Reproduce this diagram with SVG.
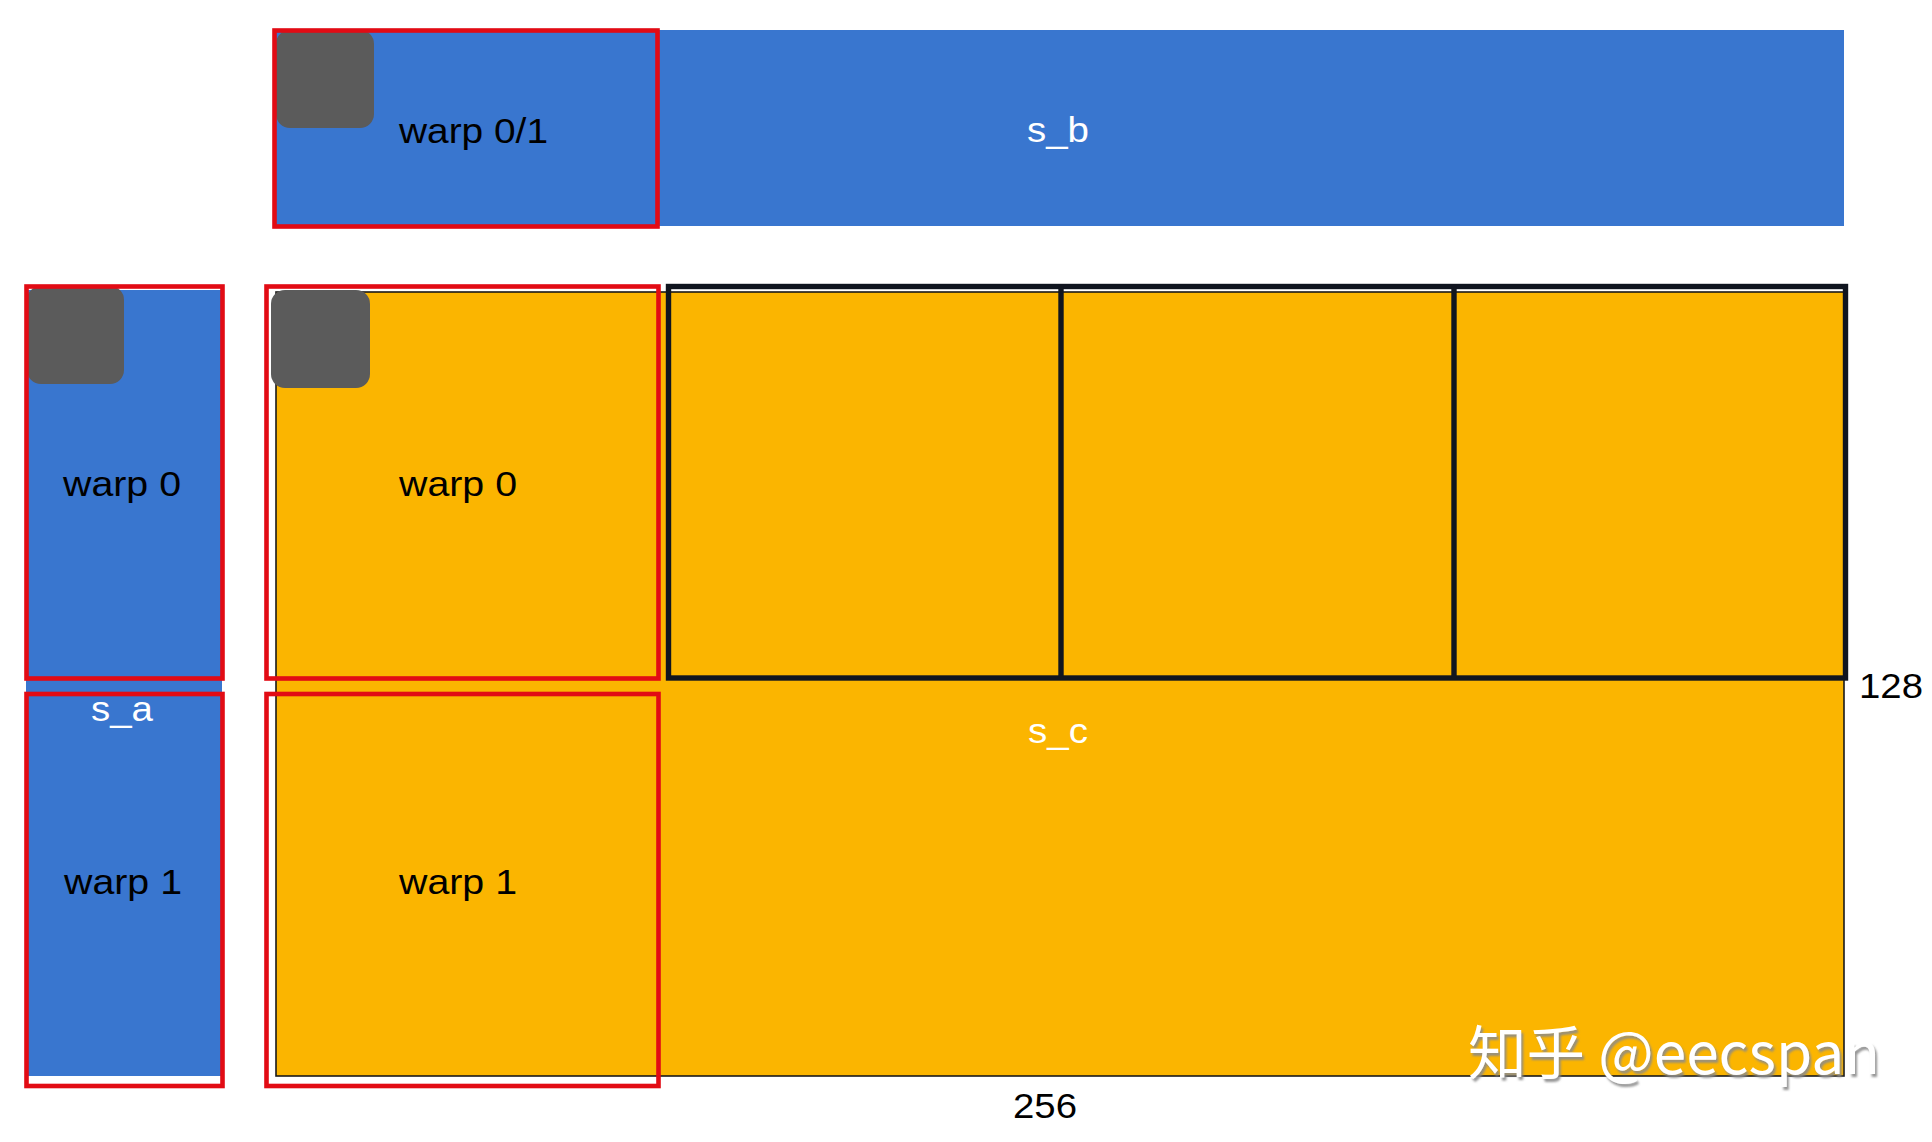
<svg xmlns="http://www.w3.org/2000/svg" width="1932" height="1142" viewBox="0 0 1932 1142">
<defs>
<style>
.blue{fill:#3976cf}
.yellow{fill:#fbb500;stroke:#1a1a1a;stroke-width:1.6}
.gray{fill:#5b5b5b}
.red{fill:none;stroke:#e20b14;stroke-width:4.6}
.grid{fill:none;stroke:#10151f;stroke-width:5.4}
.t{font-family:"Liberation Sans",Arial,Helvetica,sans-serif;font-size:35px}
.dark{fill:#000}
.light{fill:#fff}
.wm{font-family:"Noto Sans CJK SC","Liberation Sans",sans-serif;font-size:58px;fill:#fff}
</style>
<filter id="shadow" x="-5%" y="-20%" width="110%" height="160%">
<feDropShadow dx="2" dy="3" stdDeviation="1.2" flood-color="#8a8a8a" flood-opacity="0.9"/>
</filter>
</defs>
<rect width="1932" height="1142" fill="#fff"/>

<g id="s_b">
<rect class="blue" x="276" y="30" width="1568" height="196"/>
<text class="t light" x="1058" y="142" text-anchor="middle" textLength="62" lengthAdjust="spacingAndGlyphs">s_b</text>
</g>
<g id="s_b_warp01">
<rect class="gray" x="276" y="30" width="98" height="98" rx="14"/>
<rect class="red" x="274.5" y="30.5" width="383" height="196"/>
<text class="t dark" x="399" y="143" textLength="149" lengthAdjust="spacingAndGlyphs">warp 0/1</text>
</g>

<g id="s_c">
<rect class="yellow" x="276" y="292" width="1568" height="784"/>
<text class="t light" x="1058" y="743" text-anchor="middle" textLength="60" lengthAdjust="spacingAndGlyphs">s_c</text>
</g>
<g id="s_c_grid">
<rect class="grid" x="668.5" y="286.5" width="1177" height="391.5"/>
<line class="grid" x1="1061" y1="286.5" x2="1061" y2="678"/>
<line class="grid" x1="1454" y1="286.5" x2="1454" y2="678"/>
</g>
<g id="s_c_warp0">
<rect class="gray" x="271" y="290" width="99" height="98" rx="14"/>
<rect class="red" x="266.5" y="286.5" width="392" height="392"/>
<text class="t dark" x="399" y="496" textLength="118" lengthAdjust="spacingAndGlyphs">warp 0</text>
</g>
<g id="s_c_warp1">
<rect class="red" x="266.5" y="694" width="392" height="392"/>
<text class="t dark" x="399" y="894" textLength="118" lengthAdjust="spacingAndGlyphs">warp 1</text>
</g>

<g id="s_a">
<rect class="blue" x="26" y="290" width="196" height="786"/>
<text class="t light" x="122" y="721" text-anchor="middle" textLength="62" lengthAdjust="spacingAndGlyphs">s_a</text>
</g>
<g id="s_a_warp0">
<rect class="gray" x="27" y="286" width="97" height="98" rx="14"/>
<rect class="red" x="26.5" y="286.5" width="196" height="392"/>
<text class="t dark" x="63" y="496" textLength="118" lengthAdjust="spacingAndGlyphs">warp 0</text>
</g>
<g id="s_a_warp1">
<rect class="red" x="26.5" y="694" width="196" height="392"/>
<text class="t dark" x="64" y="894" textLength="118" lengthAdjust="spacingAndGlyphs">warp 1</text>
</g>

<g id="labels">
<text class="t dark" x="1859" y="698" textLength="64" lengthAdjust="spacingAndGlyphs">128</text>
<text class="t dark" x="1045" y="1118" text-anchor="middle" textLength="64" lengthAdjust="spacingAndGlyphs">256</text>
</g>

<g id="watermark">
<text class="wm" x="1468" y="1074" textLength="412" lengthAdjust="spacingAndGlyphs" filter="url(#shadow)">知乎 @eecspan</text>
</g>
</svg>
